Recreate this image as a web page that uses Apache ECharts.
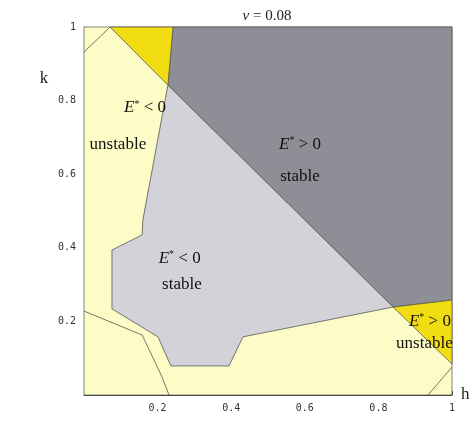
<!DOCTYPE html><html><head><meta charset="utf-8"><script src="https://cdn.jsdelivr.net/npm/echarts@6/dist/echarts.min.js"></script></head><body style="margin:0;background:#fff"><div id="c" style="width:474px;height:434px"></div><script>
const bgRegion=[[0,0],[1,0],[1,1],[0,1]];
const darkRegion=[[0.242,1],[1,1],[1,0.258],[0.840,0.239],[0.228,0.842]];
const lightGreyRegion=[[0.228,0.842],[0.840,0.239],[0.432,0.158],[0.394,0.079],[0.236,0.079],[0.201,0.158],[0.076,0.234],[0.076,0.394],[0.158,0.435],[0.160,0.476]];
const yellowTop=[[0.071,1],[0.242,1],[0.228,0.842]];
const yellowRight=[[0.840,0.239],[1,0.258],[1,0.084]];
const lineTopLeft=[[0,0.932],[0.071,1]];
const lineBottomLeft=[[0,0.228],[0.158,0.163],[0.212,0.049],[0.231,0]];
const lineBottomRight=[[1,0.076],[0.935,0]];
const labels=[["E","<0",0.166,0.78],["unstable","",0.092,0.68],["E",">0",0.587,0.68],["stable","",0.587,0.595],["E","<0",0.26,0.37],["stable","",0.266,0.30],["E",">0",0.94,0.2],["unstable","",0.925,0.14]];
const xTicks=[0.2,0.4,0.6,0.8,1];
const ch=echarts.init(document.getElementById('c'));
function poly(pts,fill,stroke){return{type:'custom',coordinateSystem:'cartesian2d',silent:true,data:[0],
 renderItem:(p,api)=>({type:'polygon',shape:{points:pts.map(q=>api.coord(q))},style:{fill:fill,stroke:stroke,lineWidth:0.8}})};}
function line(pts){return{type:'custom',coordinateSystem:'cartesian2d',silent:true,data:[0],
 renderItem:(p,api)=>({type:'polyline',shape:{points:pts.map(q=>api.coord(q))},style:{fill:null,stroke:'#555',lineWidth:0.8}})};}
const F='Liberation Serif';
ch.setOption({animation:false,
 grid:{left:84,right:22,top:27,bottom:39},
 title:{text:'{i|v} = 0.08',left:262,top:4,textAlign:'center',textStyle:{fontFamily:F,fontSize:15,fontWeight:'normal',color:'#222',rich:{i:{fontStyle:'italic',fontFamily:F,fontSize:15}}}},
 xAxis:{type:'value',min:0,max:1,interval:0.2,name:'h',nameLocation:'end',nameGap:-10,nameTextStyle:{fontFamily:F,fontSize:17,color:'#222',padding:[40,0,0,0]},
  axisLine:{lineStyle:{color:'#333'}},axisTick:{inside:true,length:4,lineStyle:{color:'#333'}},minorTick:{show:true,splitNumber:4,length:2},
  splitLine:{show:false},axisLabel:{fontFamily:'DejaVu Sans Mono',fontSize:10,color:'#333',formatter:v=>xTicks.includes(+v.toFixed(1))?(v===1?'1':v.toFixed(1)):''}},
 yAxis:{type:'value',min:0,max:1,interval:0.2,name:'k',nameLocation:'end',nameGap:0,nameTextStyle:{fontFamily:F,fontSize:17,color:'#222',padding:[0,80,-60,0]},
  axisLine:{show:true,lineStyle:{color:'#333'}},axisTick:{show:true,inside:true,length:4,lineStyle:{color:'#333'}},minorTick:{show:true,splitNumber:4,length:2},
  splitLine:{show:false},axisLabel:{fontFamily:'DejaVu Sans Mono',fontSize:10,color:'#333',formatter:v=>v===0?'':(v===1?'1':v.toFixed(1))}},
 series:[poly(bgRegion,'#fdfcc6','#666'),poly(darkRegion,'#8e8e96','#555'),poly(lightGreyRegion,'#d2d2d8','#555'),poly(yellowTop,'#f2dc12','#555'),poly(yellowRight,'#f2dc12','#555'),
  line(lineTopLeft),line(lineBottomLeft),line(lineBottomRight),
  {type:'custom',coordinateSystem:'cartesian2d',silent:true,data:labels.map((l,i)=>i),z:5,
   renderItem:(p,api)=>{const l=labels[p.dataIndex];const c=api.coord([l[2],l[3]]);
    const txt=l[1]?'{i|E}{s|*}{n| '+l[1].replace('<','< ').replace('>','> ')+'}':'{n|'+l[0]+'}';
    return{type:'text',x:c[0],y:c[1],style:{text:txt,align:'center',verticalAlign:'middle',fill:'#111',
     rich:{i:{fontFamily:F,fontStyle:'italic',fontSize:17,fill:'#111'},s:{fontFamily:F,fontSize:10,verticalAlign:'top',padding:[0,0,8,0],fill:'#111'},n:{fontFamily:F,fontSize:17,fill:'#111'}}}};}}
 ]});
</script></body></html>
